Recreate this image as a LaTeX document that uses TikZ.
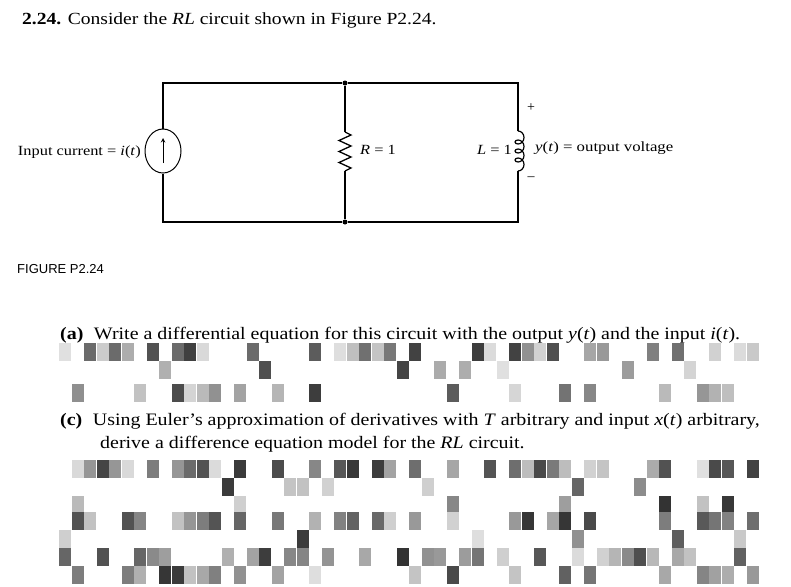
\documentclass[tikz,border=0pt]{standalone}
\usepackage{fontspec}
\setmainfont{Liberation Serif}
\newfontfamily\sansf{Liberation Sans}
\usetikzlibrary{shapes.geometric}
\newcommand{\wx}[2]{\scalebox{#1}[1]{#2}}
\begin{document}
\begin{tikzpicture}[x=1pt,y=-1pt,
  wire/.style={line width=1.3pt},
  lbl/.style={font=\fontsize{14}{16}\selectfont, inner sep=0pt},
  body/.style={font=\fontsize{17.5}{20}\selectfont, inner sep=0pt, anchor=base west},
  dot/.style={circle, fill, inner sep=0pt, minimum size=5pt}]
\useasboundingbox (0,0) rectangle (791,586);
\node[font=\fontsize{17}{19}\selectfont, anchor=base west, inner sep=0pt] (title) at (22,25) {\wx{1.15}{\textbf{2.24.} Consider the \textit{RL} circuit shown in Figure P2.24.}};
% circuit
\coordinate (tl) at (163,83); \coordinate (tr) at (518,83);
\coordinate (bl) at (163,222); \coordinate (br) at (518,222);
\node[dot] (tm) at (345,83) {}; \node[dot] (bm) at (345,222) {};
\node[draw, ellipse, line width=1pt, minimum width=36pt, minimum height=44pt, inner sep=0pt] (src) at (163,151) {};
\draw[wire] (src.north) -- (tl) -- (tm) -- (tr) -- (518,131);
\draw[wire] (src.south) -- (bl) -- (bm) -- (br) -- (518,171);
\draw[line width=1pt,-stealth] (163,163) -- (163,138);
\draw[wire] (tm) -- (345,132);
\draw[wire] (345,132) -- (351,135) -- (339,140.5) -- (351,146) -- (339,151.5) -- (351,157) -- (339,162.5) -- (351,168) -- (345,171);
\draw[wire] (345,171) -- (bm);
% inductor
\draw[line width=1.2pt] (518,131) arc[start angle=-90,end angle=90,x radius=6,y radius=6.5]
  arc[start angle=90,end angle=270,x radius=3,y radius=2]
  arc[start angle=-90,end angle=90,x radius=6,y radius=6.5]
  arc[start angle=90,end angle=270,x radius=3,y radius=2]
  arc[start angle=-90,end angle=90,x radius=6,y radius=6.5]
  arc[start angle=90,end angle=270,x radius=3,y radius=2]
  arc[start angle=-90,end angle=90,x radius=6,y radius=6.5];
\node[lbl] (plus) at (531,108) {+};
\node[lbl] (minus) at (531,179) {--};
\node[lbl, anchor=east] (in) at (141,152) {\wx{1.17}{Input current = \textit{i}(\textit{t})}};
\node[lbl, anchor=west] (R) at (360,150) {\wx{1.17}{\textit{R} = 1}};
\node[lbl, anchor=east] (L) at (512,150) {\wx{1.17}{\textit{L} = 1}};
\node[lbl, anchor=west] (y) at (535,148) {\wx{1.2}{\textit{y}(\textit{t}) = output voltage}};
\node[font=\sansf\fontsize{13}{15}\selectfont, anchor=base west, inner sep=0pt] (fig) at (17,273) {FIGURE P2.24};
% text
\node[body] (a) at (60,339) {\wx{1.14}{\textbf{(a)}\; Write a differential equation for this circuit with the output \textit{y}(\textit{t}) and the input \textit{i}(\textit{t}).}};
\node[body] (c) at (60,425) {\wx{1.14}{\textbf{(c)}\; Using Euler’s approximation of derivatives with \textit{T} arbitrary and input \textit{x}(\textit{t}) arbitrary,}};
\node[body] (c2) at (100,448) {\wx{1.14}{derive a difference equation model for the \textit{RL} circuit.}};
% redaction mosaic
\foreach \row/\y/\dens in {0/343/55,1/361/12,2/384/30,3/460/55,4/478/15,5/496/10,6/512/45,7/530/12,8/548/55,9/566/35}{
  \foreach \i in {0,...,55}{
    \pgfmathtruncatemacro{\h}{mod(\i*53+\row*29+mod(\i*\i,97)*7,100)}
    \pgfmathtruncatemacro{\g}{12+mod(\i*17+\row*41+mod(\i*\i,89)*3,70)}
    \ifnum\h<\dens
      \fill[black!\g] ({59+\i*12.5},\y) rectangle ({59+\i*12.5+12.4},\y+18);
    \fi
  }
}
\end{tikzpicture}
\end{document}
